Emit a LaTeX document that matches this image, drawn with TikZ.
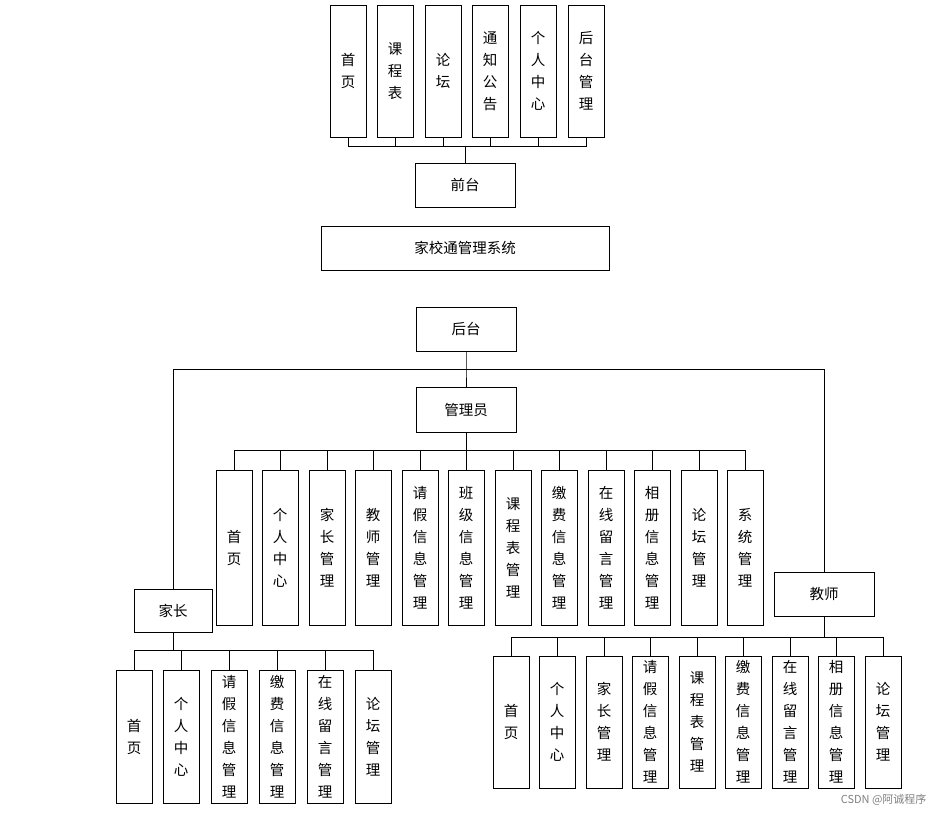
\documentclass[tikz,border=0pt]{standalone}
\usepackage{fontspec}
\newfontfamily\cjk{Noto Sans CJK SC}
\begin{document}
\begin{tikzpicture}[x=1pt,y=-1pt,
  every node/.style={font=\cjk\fontsize{14.5}{22}\selectfont},
  hb/.style={draw,inner sep=0pt,align=center},
  ln/.style={draw,line width=0.6pt}]
\useasboundingbox (0,0) rectangle (944,818);
% main boxes
\node[hb,minimum width=100,minimum height=44] (qt) at (465,185) {前台};
\node[hb,minimum width=288,minimum height=44] (sys) at (465,248) {家校通管理系统};
\node[hb,minimum width=100,minimum height=44] (ht) at (466,329) {后台};
\node[hb,minimum width=100,minimum height=45] (gly) at (466,410) {管理员};
\node[hb,minimum width=78,minimum height=43] (jz) at (173,611) {家长};
\node[hb,minimum width=100,minimum height=44] (js) at (824,594) {教师};
% top row
\coordinate (tb) at (465,146);
\foreach \x/\t [count=\i] in {348/首\\页,395/课\\程\\表,443/论\\坛,490/通\\知\\公\\告,538/个\\人\\中\\心,586/后\\台\\管\\理}{
  \node[hb,minimum width=36,minimum height=132] (t\i) at (\x,71) {\t};
  \draw[ln] (t\i.south) |- (tb);
}
\draw[ln] (qt.north) -- (tb);
% backend
\coordinate (hb) at (466,369);
\draw[ln] (ht.south) -- (hb) -- (gly.north);
\draw[ln] (jz.north) |- (hb);
\draw[ln] (js.north) |- (hb);
% admin
\coordinate (gb) at (466,450);
\draw[ln] (gly.south) -- (gb);
\foreach \x/\t [count=\i] in {234/首\\页,280/个\\人\\中\\心,327/家\\长\\管\\理,373/教\\师\\管\\理,420/请\\假\\信\\息\\管\\理,466/班\\级\\信\\息\\管\\理,513/课\\程\\表\\管\\理,559/缴\\费\\信\\息\\管\\理,606/在\\线\\留\\言\\管\\理,652/相\\册\\信\\息\\管\\理,699/论\\坛\\管\\理,745/系\\统\\管\\理}{
  \node[hb,minimum width=36,minimum height=155] (a\i) at (\x,548) {\t};
  \draw[ln] (a\i.north) |- (gb);
}
% parent
\coordinate (pb) at (173,650);
\draw[ln] (jz.south) -- (pb);
\foreach \x/\t [count=\i] in {134/首\\页,181/个\\人\\中\\心,229/请\\假\\信\\息\\管\\理,277/缴\\费\\信\\息\\管\\理,325/在\\线\\留\\言\\管\\理,373/论\\坛\\管\\理}{
  \node[hb,minimum width=36,minimum height=133] (p\i) at (\x,737) {\t};
  \draw[ln] (p\i.north) |- (pb);
}
% teacher
\coordinate (jb) at (824,637);
\draw[ln] (js.south) -- (jb);
\foreach \x/\t [count=\i] in {511/首\\页,557/个\\人\\中\\心,604/家\\长\\管\\理,650/请\\假\\信\\息\\管\\理,697/课\\程\\表\\管\\理,743/缴\\费\\信\\息\\管\\理,790/在\\线\\留\\言\\管\\理,836/相\\册\\信\\息\\管\\理,883/论\\坛\\管\\理}{
  \node[hb,minimum width=36,minimum height=132] (j\i) at (\x,722) {\t};
  \draw[ln] (j\i.north) |- (jb);
}
\node[text=gray,font=\cjk\fontsize{11}{13}\selectfont,anchor=east] (wm) at (930,800) {CSDN @阿诚程序};
\end{tikzpicture}
\end{document}
